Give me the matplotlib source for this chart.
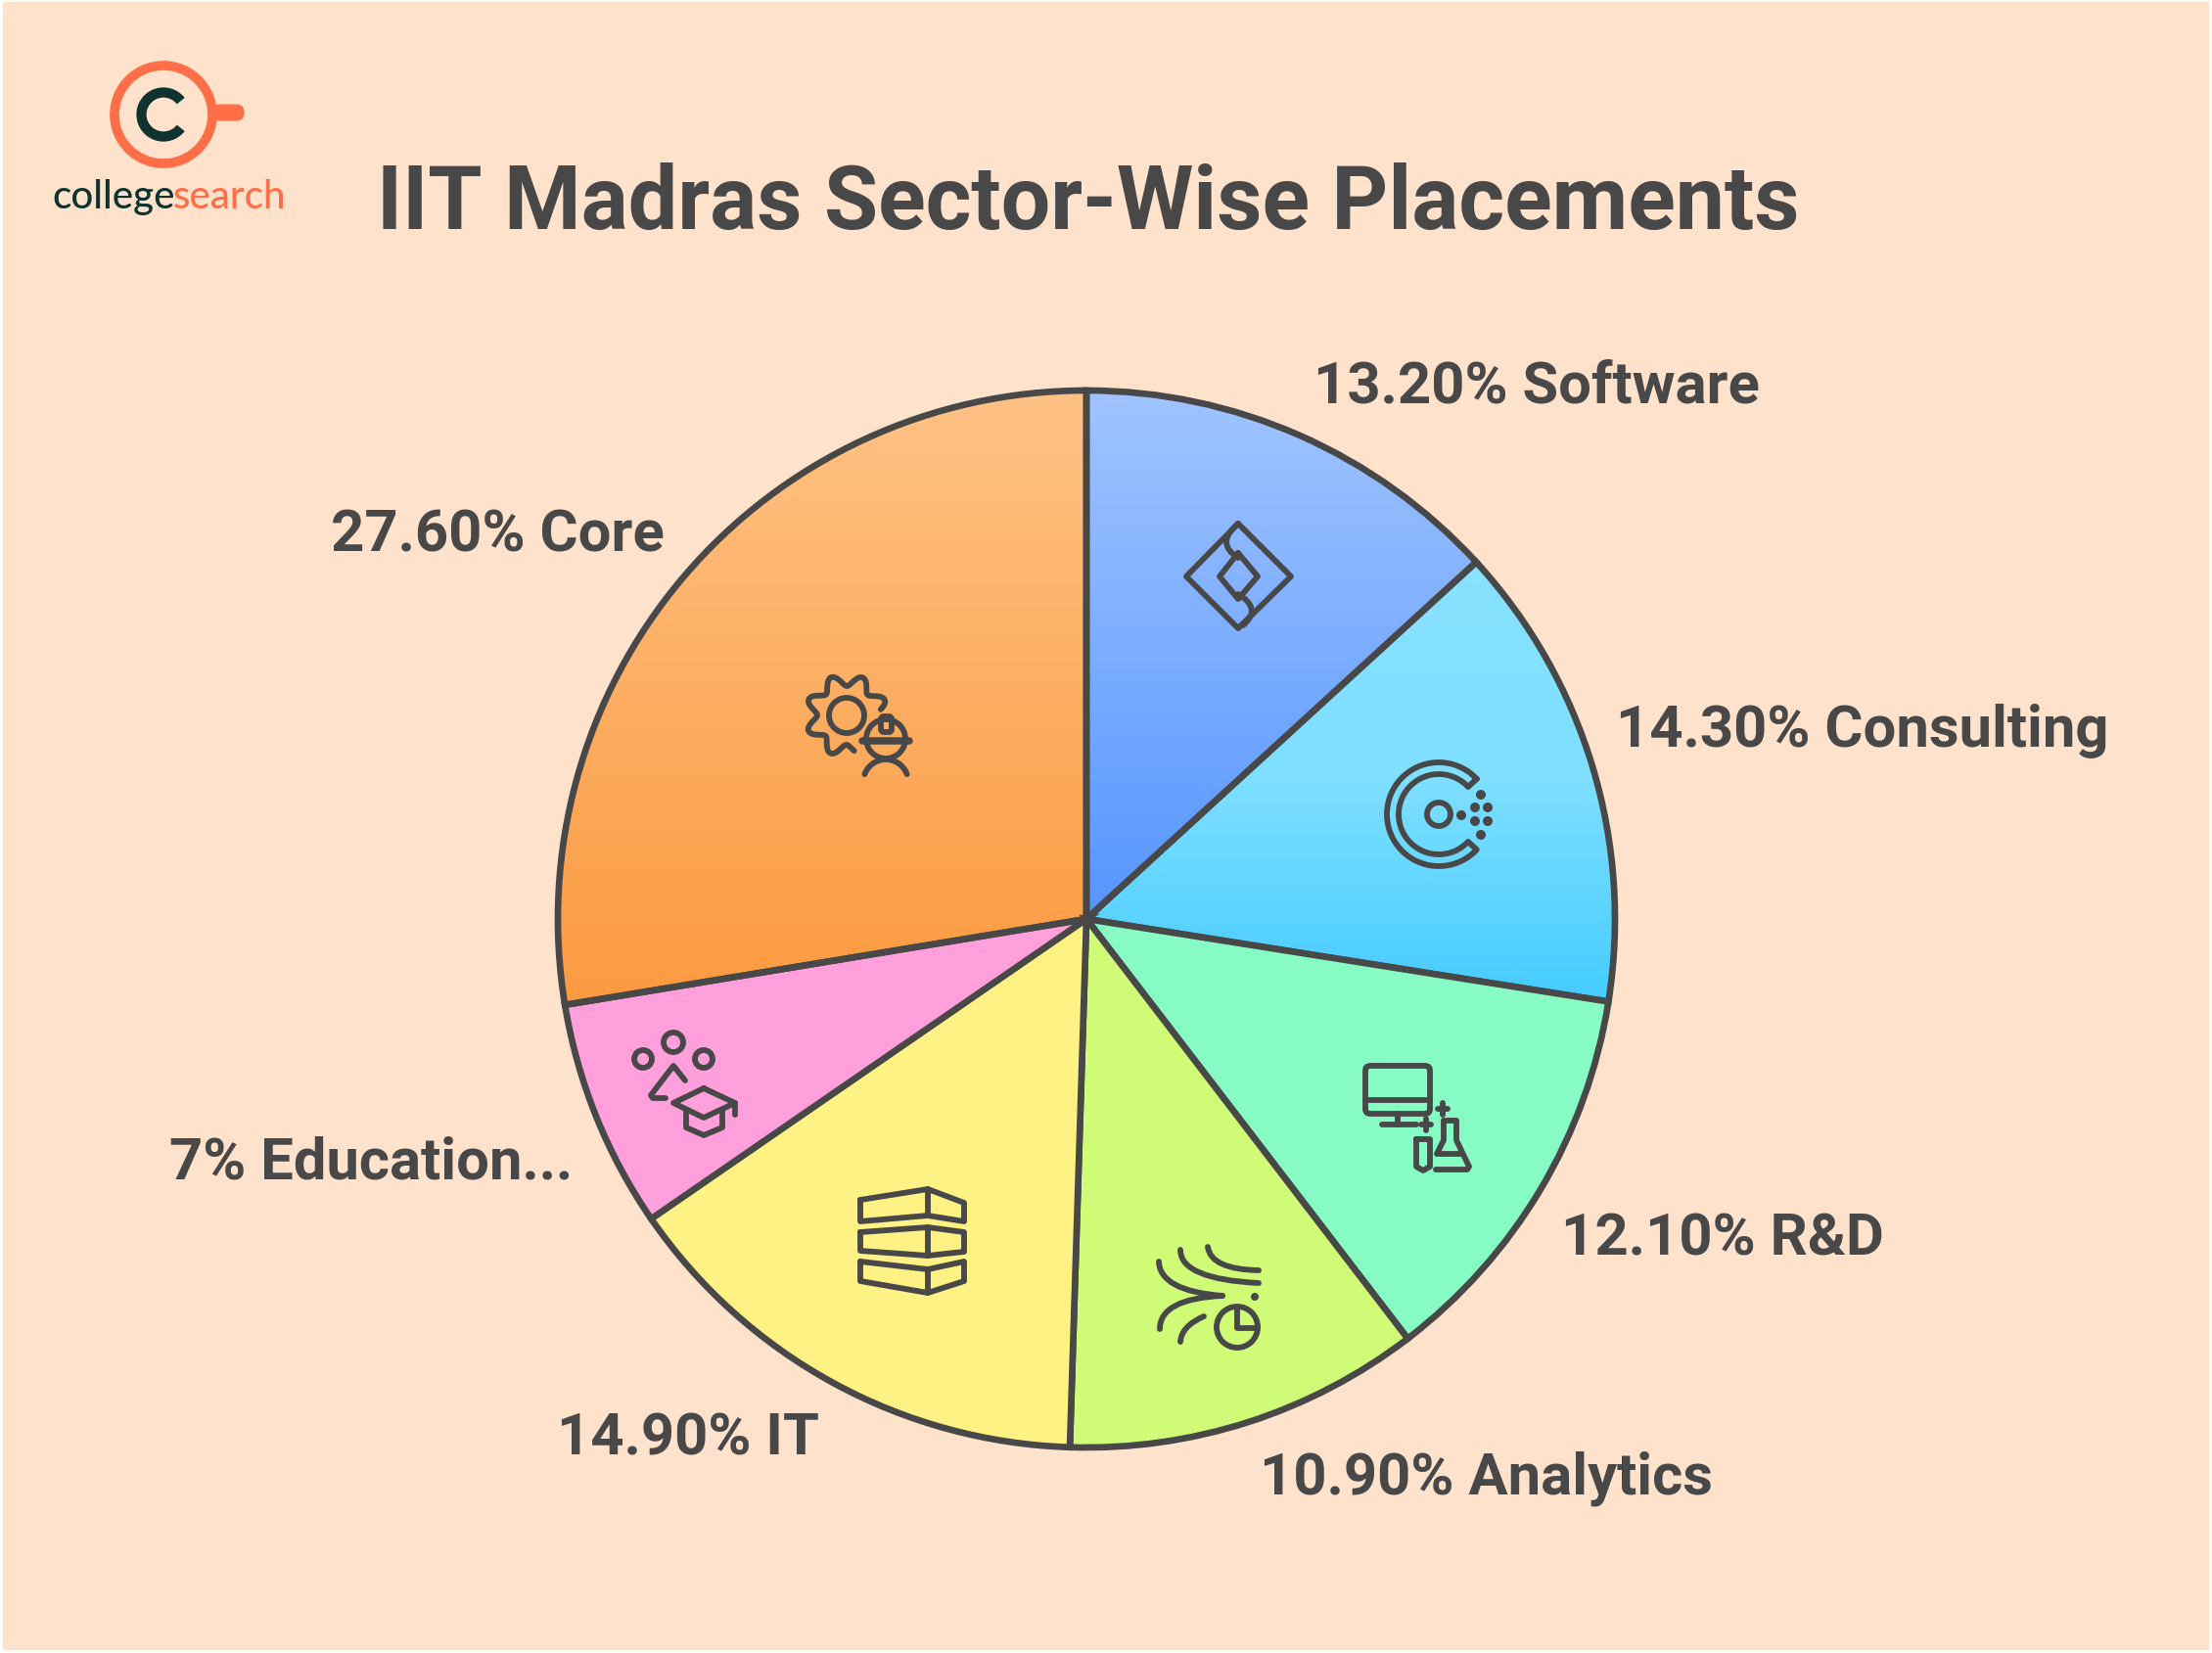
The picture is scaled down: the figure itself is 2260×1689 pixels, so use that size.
import numpy as np
import matplotlib
matplotlib.use("Agg")
import matplotlib.pyplot as plt
from matplotlib.colors import LinearSegmentedColormap
from matplotlib.patches import Circle, FancyBboxPatch, PathPatch, Rectangle, Arc
from matplotlib.path import Path

W, H = 2260, 1690
INK = "#484848"
BG = "#FFE2CC"
ORANGE = "#FF6F47"
DARK = "#0E3330"

# chart data, clockwise from 12 o'clock
sectors = ["Software", "Consulting", "R&D", "Analytics", "IT", "Education...", "Core"]
shares = [13.20, 14.30, 12.10, 10.90, 14.90, 7, 27.60]
share_text = ["13.20%", "14.30%", "12.10%", "10.90%", "14.90%", "7%", "27.60%"]
top_colors = ["#A0C4FF", "#88E2FF", "#86FBC3", "#D0FB77", "#FFF284", "#FFA0DC", "#FFC285"]
mid_colors = ["#7BADFF", "#7EDFFF", "#86FBC3", "#D0FB77", "#FFF284", "#FFA0DC", "#FDAE62"]
bottom_colors = ["#5596FF", "#45CCFF", "#86FBC3", "#D0FB77", "#FFF284", "#FFA0DC", "#FC9A40"]
label_x = [1341.5, 1650.5, 1595, 1287, 569, 173, 337.5]
label_y = [393, 744, 1264, 1508, 1468, 1186, 545]

fig = plt.figure(figsize=(W / 100, H / 100), dpi=100, facecolor="white")
ax = fig.add_axes([0, 0, 1, 1])

LW = 4.2
ICON_DY = 3


def Y(y):
    return H - y


def IY(y):
    return H - y - ICON_DY


def stroke(points, closed=False, lw=LW):
    pts = [(x, IY(y)) for x, y in points]
    if closed:
        pts = pts + [pts[0]]
    ax.plot([p[0] for p in pts], [p[1] for p in pts], color=INK, lw=lw,
            solid_capstyle="round", solid_joinstyle="round", zorder=5)


def curve(p0, c, p1, lw=LW):
    path = Path([(p0[0], IY(p0[1])), (c[0], IY(c[1])), (p1[0], IY(p1[1]))],
                [Path.MOVETO, Path.CURVE3, Path.CURVE3])
    ax.add_patch(PathPatch(path, fc="none", ec=INK, lw=lw, capstyle="round", zorder=5))


def ring(x, y, r, lw=LW):
    ax.add_patch(Circle((x, IY(y)), r, fc="none", ec=INK, lw=lw, zorder=5))


def dot(x, y, r):
    ax.add_patch(Circle((x, IY(y)), r, fc=INK, ec="none", zorder=5))


def arc_pts(x, y, r, a0, a1):
    t = np.radians(np.linspace(a0, a1, 80))
    return list(zip(x + r * np.cos(t), y - r * np.sin(t)))


ax.add_patch(Rectangle((0, 0), W, H, fc=BG, ec="white", lw=4, zorder=0))

# pie with gradient fills clipped to the wedges
wedges, _ = ax.pie(shares, center=(1110, Y(940)), radius=540, startangle=90, counterclock=False,
                   colors=top_colors,
                   wedgeprops=dict(edgecolor=INK, linewidth=4.8, zorder=2))
for w, c0, c1, c2 in zip(wedges, top_colors, mid_colors, bottom_colors):
    if c0 == c2:
        continue
    box = w.get_path().get_extents(w.get_patch_transform())
    cmap = LinearSegmentedColormap.from_list("g", [c0, c1, c2])
    im = ax.imshow(np.linspace(0, 1, 256).reshape(-1, 1), cmap=cmap, aspect="equal", origin="upper",
                   extent=(box.x0, box.x1, box.y0, box.y1), zorder=1)
    im.set_clip_path(w)
    w.set_facecolor("none")

for name, pct, x, y in zip(sectors, share_text, label_x, label_y):
    ax.text(x, Y(y - 3), pct + " " + name, family="Roboto", weight="bold", fontsize=43,
            color=INK, ha="left", va="center_baseline", zorder=6)

ax.text(385, Y(200), "IIT Madras Sector-Wise Placements", family="Roboto", weight="bold",
        fontsize=64.6, color=INK, ha="left", va="center_baseline", zorder=6)

# logo
ax.add_patch(FancyBboxPatch((222, Y(116) - 3), 22, 6, boxstyle="round,pad=5.5,rounding_size=8",
                            fc=ORANGE, ec="none", zorder=3))
ax.add_patch(Circle((167, Y(118)), 50, fc=BG, ec=ORANGE, lw=7, zorder=4))
ax.add_patch(Arc((167, Y(118)), 45, 45, theta1=38, theta2=322, ec=DARK, lw=7.4, zorder=5))
ax.text(53, Y(213), "college", family="Lato", weight="medium", fontsize=29, color=DARK,
        ha="left", va="baseline", zorder=5)
ax.text(177, Y(213), "search", family="Lato", weight="medium", fontsize=29, color=ORANGE,
        ha="left", va="baseline", zorder=5)

# icon: software
stroke([(1265, 533), (1319, 587), (1265, 640), (1212, 587)], closed=True)
stroke([(1265, 563), (1285, 587), (1265, 610), (1246, 587)], closed=True)
curve((1265, 533), (1241, 553), (1265, 568))
curve((1265, 605), (1290, 620), (1270, 637))

# icon: core (gear and worker)
t = np.radians(np.linspace(10, 282, 200))
r = 36 + 6 * np.cos(8 * (t - np.radians(22)))
stroke(list(zip(865 + r * np.cos(t), 729 - r * np.sin(t))))
ring(865, 729, 18)
ring(905, 753, 20)
stroke([(881, 755), (929, 755)], lw=5.4)
ax.add_patch(FancyBboxPatch((901, IY(745)), 9, 14, boxstyle="round,pad=1,rounding_size=3",
                            fc="none", ec=INK, lw=LW, zorder=5))
stroke(arc_pts(905, 797, 23, 160, 20))

# icon: consulting
stroke(arc_pts(1470, 830, 53, 43, 317) + arc_pts(1470, 830, 41, 317, 43), closed=True)
ring(1470, 830, 12)
for x, y, r in [(1493, 831, 5), (1507, 823, 5), (1520, 823, 5), (1507, 837, 5), (1520, 837, 5),
                (1513, 810, 5), (1513, 851, 5)]:
    dot(x, y, r)

# icon: r&d
ax.add_patch(FancyBboxPatch((1398, IY(1133)), 60, 43, boxstyle="round,pad=3,rounding_size=5",
                            fc="none", ec=INK, lw=LW, zorder=5))
stroke([(1395, 1122), (1461, 1122)])
stroke([(1428, 1136), (1428, 1147)])
stroke([(1412, 1147), (1447, 1147)])
for x, y in [(1474, 1131), (1457, 1147)]:
    stroke([(x - 5, y), (x + 5, y)])
    stroke([(x, y - 6), (x, y + 6)])
stroke([(1447, 1162), (1461, 1162), (1461, 1190), (1454, 1194), (1447, 1190)], closed=True)
stroke([(1475, 1143), (1488, 1143), (1488, 1163), (1501, 1190), (1499, 1193), (1467, 1193)])
stroke([(1475, 1143), (1475, 1163), (1468, 1177), (1493, 1177)])

# icon: analytics
curve((1184, 1287), (1185, 1317), (1249, 1322))
curve((1249, 1322), (1185, 1325), (1185, 1356))
curve((1206, 1275), (1206, 1305), (1286, 1309))
curve((1234, 1272), (1237, 1295), (1286, 1296))
curve((1206, 1369), (1207, 1353), (1230, 1343))
dot(1282, 1323, 4)
ring(1264, 1354, 21)
stroke([(1264, 1335), (1264, 1355), (1285, 1355)])

# icon: it (stacked books)
book_tops = [[(879, 1224), (948, 1213), (985, 1227), (985, 1246), (948, 1240), (879, 1246)],
             [(879, 1257), (948, 1252), (985, 1257), (985, 1277), (948, 1281), (879, 1276)],
             [(879, 1287), (948, 1295), (985, 1287), (985, 1307), (948, 1319), (879, 1307)]]
for b in book_tops:
    stroke(b, closed=True)
    stroke([b[1], b[4]])

# icon: education
ring(688, 1063, 10)
ring(657, 1080, 9)
ring(719, 1080, 9)
stroke([(700, 1102), (688, 1087), (665, 1117), (667, 1120), (680, 1120)])
stroke([(719, 1110), (751, 1125), (719, 1140), (688, 1125)], closed=True)
stroke([(751, 1125), (751, 1137)])
stroke([(701, 1133), (701, 1150), (719, 1158), (738, 1150), (738, 1133)])

ax.set_xlim(0, W)
ax.set_ylim(0, H)
ax.set_aspect("equal")
ax.axis("off")

fig.savefig("out.png", dpi=100, facecolor="white")
plt.close(fig)
